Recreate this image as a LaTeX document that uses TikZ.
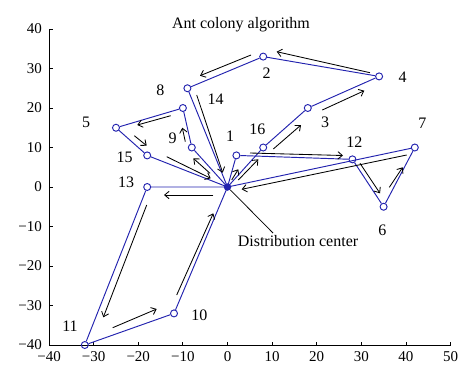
\documentclass[tikz,border=0pt]{standalone}
\usepackage{fontspec}
\setmainfont{Liberation Serif}
\usetikzlibrary{arrows.meta}
\definecolor{routeblue}{RGB}{35,35,175}
\begin{document}
\begin{tikzpicture}[x=1pt,y=-1pt,
  route/.style={draw=routeblue, line width=0.95pt},
  stop/.style={circle, draw=routeblue, line width=0.95pt, minimum size=7pt, inner sep=0pt},
  hub/.style={circle, fill=routeblue, minimum size=7.5pt, inner sep=0pt},
  dir/.style={draw=black, line width=0.85pt, -{Straight Barb[length=4.5pt,width=7.5pt]}},
  lbl/.style={font=\fontsize{16}{18}\selectfont, inner sep=0pt},
  ticklbl/.style={font=\fontsize{15}{17}\selectfont, inner sep=0pt},
  axisline/.style={draw=black, line width=0.9pt},
]
\useasboundingbox (0,0) rectangle (474,384);

% axes
\draw[axisline] (49,29) -- (49,345) -- (450.6,345);
\foreach \v/\t [count=\i] in {-40/−40,-30/−30,-20/−20,-10/−10,0/0,10/10,20/20,30/30,40/40}{
  \pgfmathsetmacro\py{187-3.95*\v}
  \draw[axisline] (49,\py) -- (52.5,\py);
  \node[ticklbl, anchor=east] (yt\i) at (42,\py) {\t};
}
\foreach \v/\t [count=\i] in {-40/−40,-30/−30,-20/−20,-10/−10,0/0,10/10,20/20,30/30,40/40,50/50}{
  \pgfmathsetmacro\px{227.5+4.462*\v}
  \draw[axisline] (\px,345) -- (\px,341.5);
  \node[ticklbl] (xt\i) at (\px,357) {\t};
}

% title
\node[lbl] (title) at (241,25) {Ant colony algorithm};

% stops
\node[stop] (p1) at (236.4,155.4) {};
\node[stop] (p16) at (263.2,147.5) {};
\node[stop] (p3) at (307.8,108) {};
\node[stop] (p4) at (379.1,76.4) {};
\node[stop] (p2) at (263.2,56.6) {};
\node[stop] (p8) at (187.4,88.25) {};
\node[stop] (p20) at (182.9,108) {};
\node[stop] (p5) at (116,127.75) {};
\node[stop] (p15) at (147.2,155.4) {};
\node[stop] (p9) at (191.8,147.5) {};
\node[stop] (p13) at (147.2,187) {};
\node[stop] (p11) at (84.8,345) {};
\node[stop] (p10) at (174,313.4) {};
\node[stop] (p12) at (352.4,159.35) {};
\node[stop] (p7) at (414.8,147.5) {};
\node[stop] (p6) at (383.6,206.75) {};
\coordinate (c) at (227.5,187);

% routes
\draw[route] (c) -- (p13) -- (p11) -- (p10) -- (c);
\draw[route] (c) -- (p9) -- (p20) -- (p5) -- (p15) -- (c);
\draw[route] (c) -- (p16) -- (p3) -- (p4) -- (p2) -- (p8) -- (c);
\draw[route] (c) -- (p1) -- (p12) -- (p6) -- (p7) -- (c);
\node[hub] (hub) at (c) {};

% direction arrows
\draw[dir] (213.3,195) -- (164,195);
\draw[dir] (146.7,205) -- (103.3,317.3);
\draw[dir] (112.7,327.7) -- (156.7,309);
\draw[dir] (176.7,295) -- (213.3,213.3);

\draw[dir] (210,173.3) -- (193.3,158.3);
\draw[dir] (185.3,141.7) -- (182.3,127.7);
\draw[dir] (170.7,115.7) -- (137.3,125);
\draw[dir] (134.3,135.7) -- (146.7,145.7);
\draw[dir] (166.7,156.7) -- (210.7,178.3);

\draw[dir] (238.3,180) -- (258.3,159.3);
\draw[dir] (273.3,149) -- (301,125);
\draw[dir] (322.3,110) -- (364.3,90.7);
\draw[dir] (370,72.7) -- (276.7,51.7);
\draw[dir] (251,55) -- (200,75.7);
\draw[dir] (196.7,95) -- (222.7,172.7);

\draw[dir] (231.7,180) -- (238.3,169.3);
\draw[dir] (250,153) -- (343,155.5);
\draw[dir] (360,163.3) -- (380,193.3);
\draw[dir] (389.3,187.3) -- (402.7,167.3);
\draw[dir] (406.7,155) -- (241.7,189.3);

% labels
\node[lbl] (l1) at (230,136.7) {1};
\node[lbl] (l16) at (257.3,129.3) {16};
\node[lbl] (l14) at (215.7,99) {14};
\node[lbl] (l8) at (160.3,90.7) {8};
\node[lbl] (l9) at (172.7,138.3) {9};
\node[lbl] (l5) at (86,122.7) {5};
\node[lbl] (l15) at (124.7,157.3) {15};
\node[lbl] (l13) at (126,182.7) {13};
\node[lbl] (l11) at (70,326.7) {11};
\node[lbl] (l10) at (199.3,315) {10};
\node[lbl] (l2) at (266.7,72.7) {2};
\node[lbl] (l4) at (402.7,77.7) {4};
\node[lbl] (l3) at (325,122.7) {3};
\node[lbl] (l12) at (354.3,141.7) {12};
\node[lbl] (l7) at (422.3,123.3) {7};
\node[lbl] (l6) at (382.3,230.7) {6};
\node[lbl] (dc) at (298,241) {Distribution center};
\coordinate (dctop) at (273,233);
\draw[black, line width=0.75pt] (hub) -- (dctop);
\end{tikzpicture}
\end{document}
